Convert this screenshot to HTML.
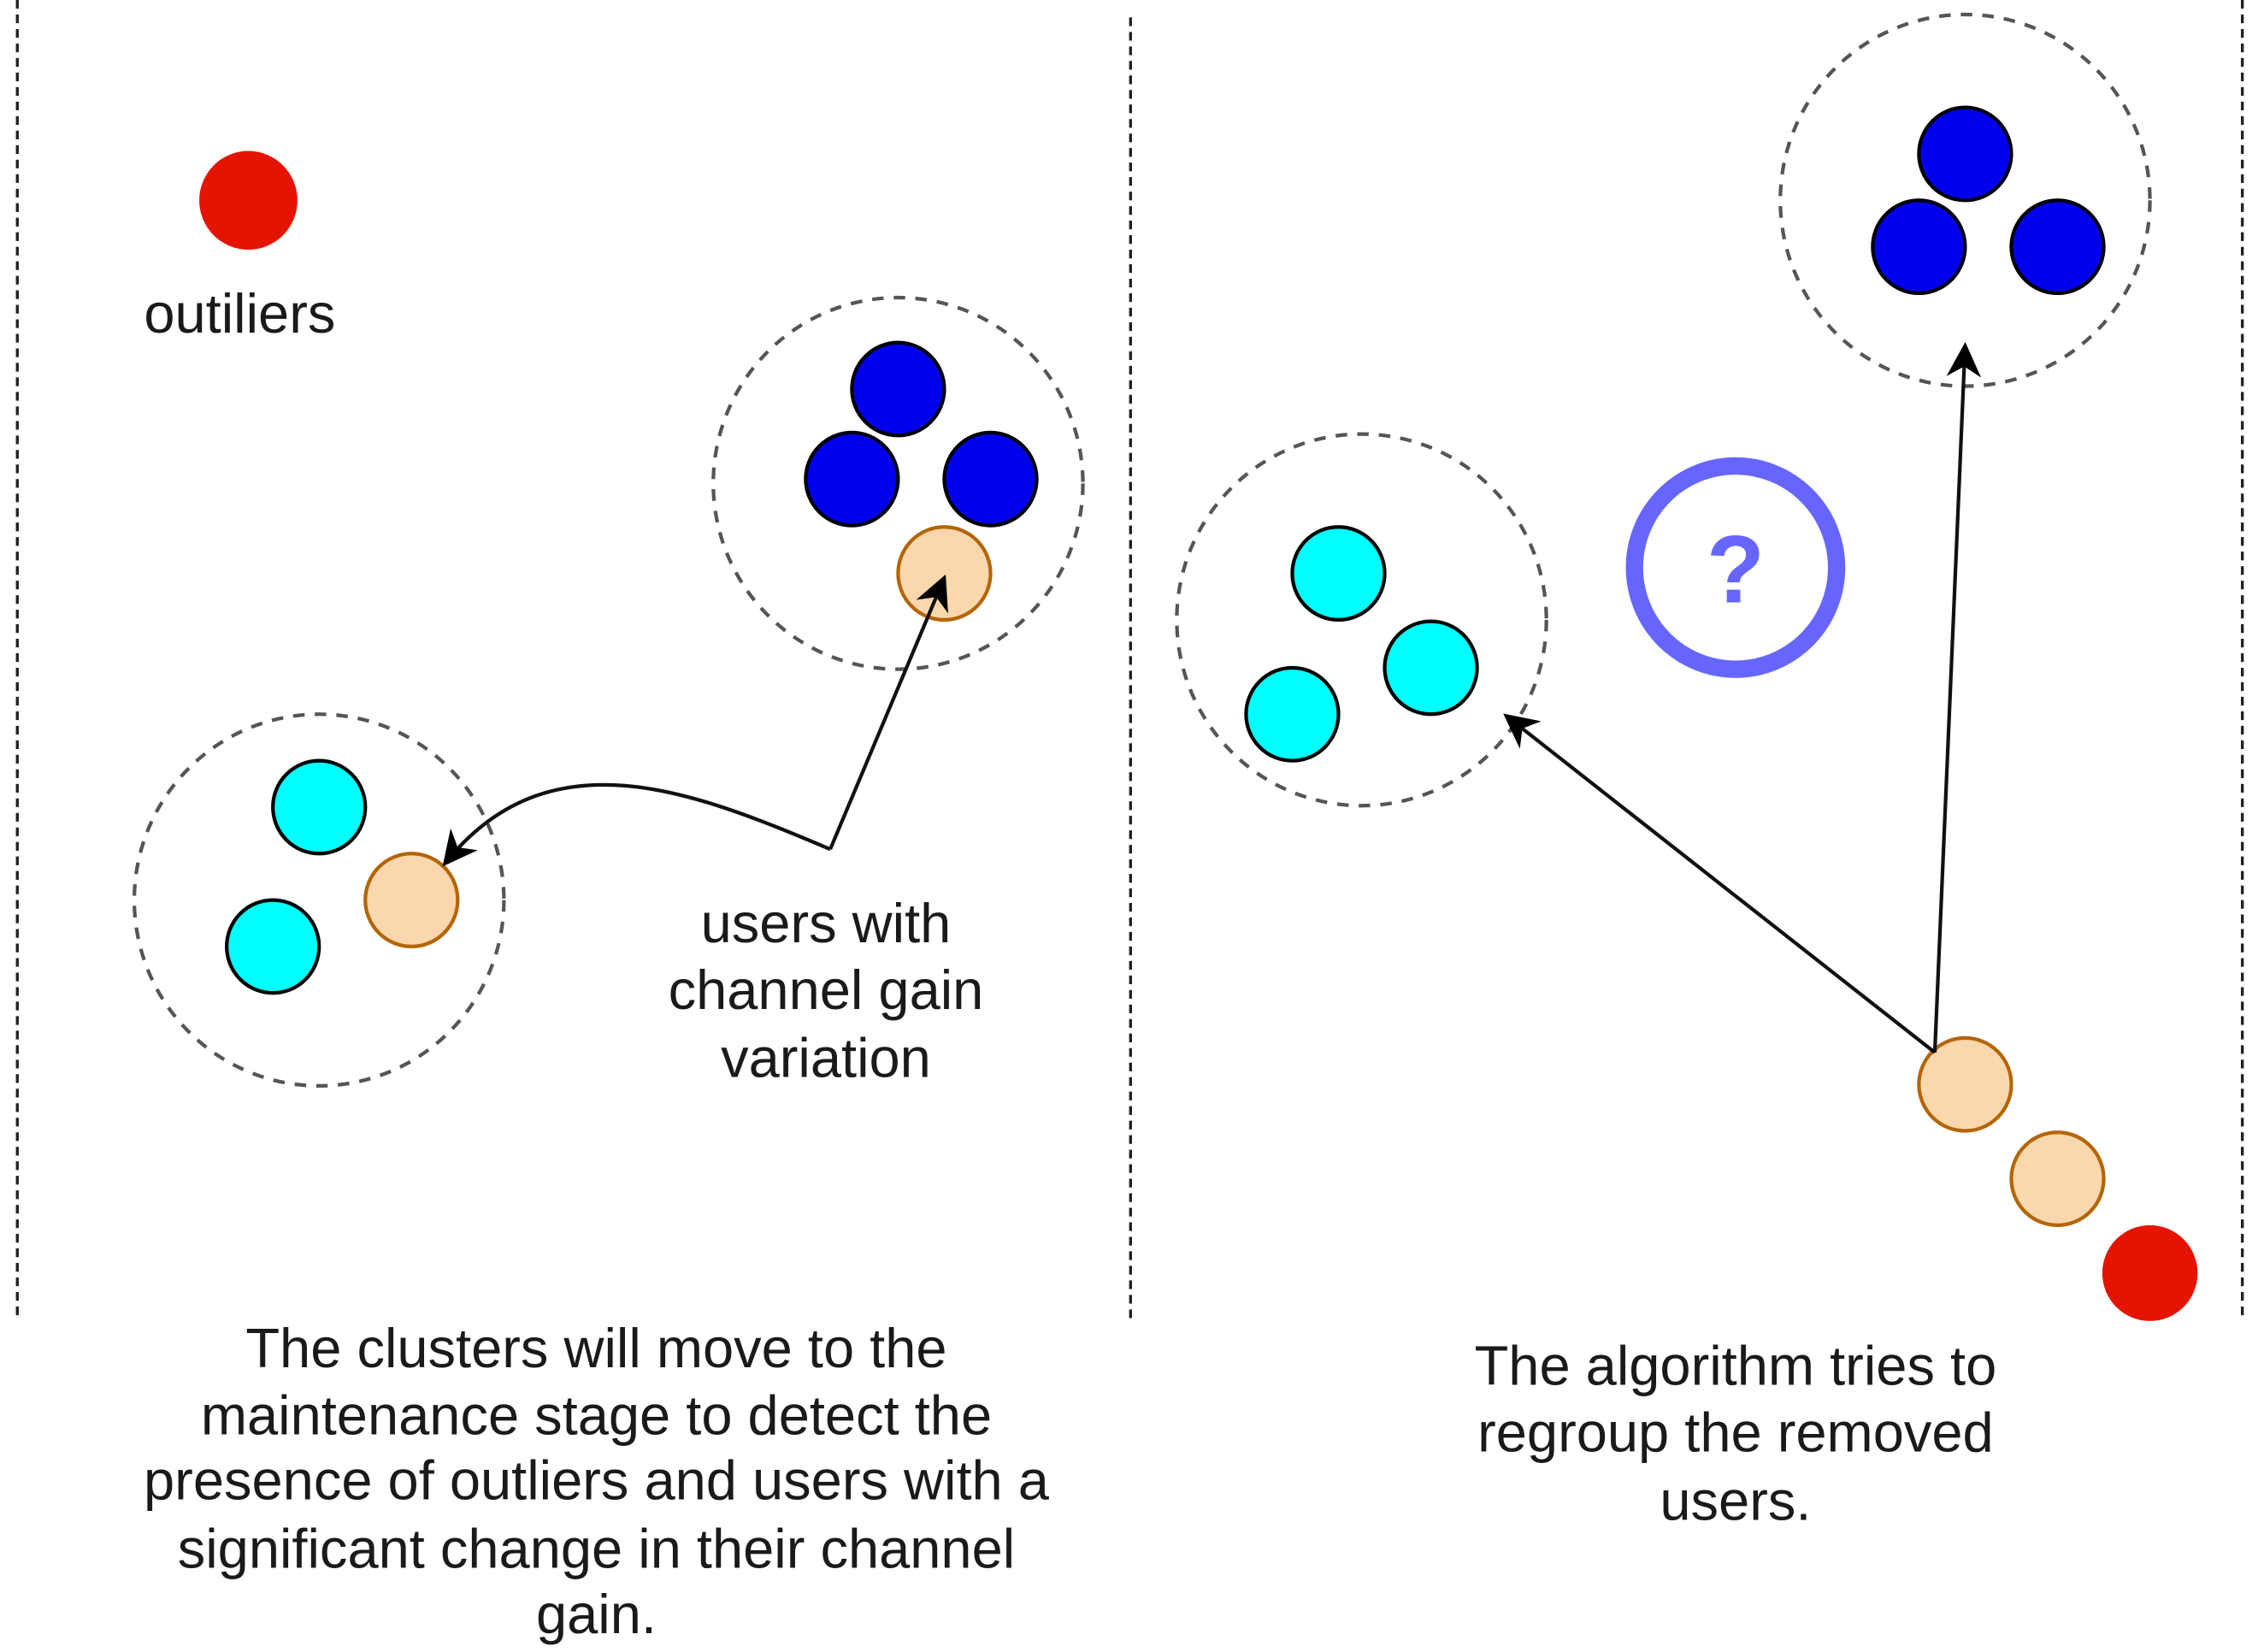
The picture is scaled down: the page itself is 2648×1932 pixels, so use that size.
<!DOCTYPE html>
<html><head><meta charset="utf-8"><style>
html,body{margin:0;padding:0;background:#fff;width:2648px;height:1932px;overflow:hidden}
svg{display:block}
text{font-family:"Liberation Sans",sans-serif;fill:#1a1a1a}
</style></head><body>
<svg width="2648" height="1932" viewBox="0 0 1568 1138" preserveAspectRatio="none">
<defs>
<marker id="ah2" viewBox="0 0 10 10" refX="9" refY="5" markerWidth="24" markerHeight="24" orient="auto" markerUnits="userSpaceOnUse">
<path d="M0,0 L10,5 L0,10 L3,5 z" fill="#000"/>
</marker>
</defs>
<g stroke="#222" stroke-width="2" stroke-dasharray="6,4">
<line x1="12" y1="0" x2="12" y2="910"/>
<line x1="783" y1="12" x2="783" y2="910"/>
<line x1="1553" y1="0" x2="1553" y2="910"/>
</g>
<circle cx="172" cy="138" r="34" fill="#e51400"/>
<text x="166" y="229" font-size="38.5" text-anchor="middle">outiliers</text>
<circle cx="622" cy="333" r="128" fill="none" stroke="#555" stroke-width="2.5" stroke-dasharray="8,7"/>
<g stroke="#000" stroke-width="2.5" fill="#0000ee">
<circle cx="622" cy="268" r="32"/><circle cx="590" cy="330" r="32"/><circle cx="686" cy="330" r="32"/>
</g>
<circle cx="654" cy="395" r="32" fill="#fad7ac" stroke="#b46504" stroke-width="2.5"/>
<circle cx="221" cy="620" r="128" fill="none" stroke="#555" stroke-width="2.5" stroke-dasharray="8,7"/>
<g stroke="#000" stroke-width="2.5" fill="#00ffff">
<circle cx="221" cy="556" r="32"/><circle cx="189" cy="652" r="32"/>
</g>
<circle cx="285" cy="620" r="32" fill="#fad7ac" stroke="#b46504" stroke-width="2.5"/>
<path d="M575,585 L654,398" stroke="#111" stroke-width="2.5" fill="none" marker-end="url(#ah2)"/>
<path d="M575,585 C480,545 380,505 308,595" stroke="#111" stroke-width="2.5" fill="none" marker-end="url(#ah2)"/>
<text font-size="38.5" text-anchor="middle"><tspan x="572" y="649">users with</tspan><tspan x="572" y="695">channel gain</tspan><tspan x="572" y="742">variation</tspan></text>
<text font-size="38.5" text-anchor="middle"><tspan x="413" y="942">The clusters will move to the</tspan><tspan x="413" y="988">maintenance stage to detect the</tspan><tspan x="413" y="1033">presence of outliers and users with a</tspan><tspan x="413" y="1080">significant change in their channel</tspan><tspan x="413" y="1125">gain.</tspan></text>
<circle cx="1361" cy="138" r="128" fill="none" stroke="#555" stroke-width="2.5" stroke-dasharray="8,7"/>
<g stroke="#000" stroke-width="2.5" fill="#0000ee">
<circle cx="1361" cy="106" r="32"/><circle cx="1329" cy="170" r="32"/><circle cx="1425" cy="170" r="32"/>
</g>
<circle cx="943" cy="427" r="128" fill="none" stroke="#555" stroke-width="2.5" stroke-dasharray="8,7"/>
<g stroke="#000" stroke-width="2.5" fill="#00ffff">
<circle cx="927" cy="395" r="32"/><circle cx="895" cy="492" r="32"/><circle cx="991" cy="460" r="32"/>
</g>
<circle cx="1202" cy="391" r="70" fill="none" stroke="#6666ff" stroke-width="12"/>
<text x="1202" y="415" font-size="66" font-weight="bold" text-anchor="middle" style="fill:#6666ff">?</text>
<circle cx="1361" cy="747" r="32" fill="#fad7ac" stroke="#b46504" stroke-width="2.5"/>
<circle cx="1425" cy="812" r="32" fill="#fad7ac" stroke="#b46504" stroke-width="2.5"/>
<circle cx="1489" cy="877" r="33" fill="#e51400"/>
<path d="M1340,725 L1361,238" stroke="#111" stroke-width="2.5" fill="none" marker-end="url(#ah2)"/>
<path d="M1340,725 L1043,493" stroke="#111" stroke-width="2.5" fill="none" marker-end="url(#ah2)"/>
<text font-size="38.5" text-anchor="middle"><tspan x="1202" y="954">The algorithm tries to</tspan><tspan x="1202" y="1000">regroup the removed</tspan><tspan x="1202" y="1047">users.</tspan></text>
</svg>
</body></html>
